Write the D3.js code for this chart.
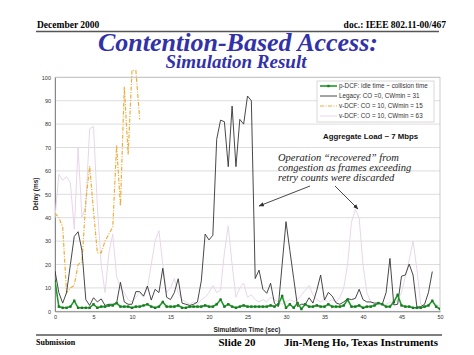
<!DOCTYPE html>
<html><head><meta charset="utf-8">
<script src="https://cdn.jsdelivr.net/npm/d3@7"></script>
<style>body{margin:0;background:#fff}svg{display:block}</style>
</head><body><svg id="c" width="474" height="355"></svg>
<script>
// ---- data ----
const timeStep = 0.5;
const pDCF = [13,2,1.5,1.5,2,4.5,1.5,1.5,1.5,1.5,3,1.5,2,2,2.5,2.5,3.5,2,2,2,1.5,2,2,2.5,3,2,1.5,2,4,2,2,2,2.5,1.5,1.5,2,2,2,2,2.5,2,2,3,5,2,3,2,1.5,2,2.5,2,2,2,2,2,2,2.5,2,3,6.5,1.5,3,1.5,3.5,1,3,2,2,2.5,2,2,3,2,2,2,2.5,5,2,2,2.5,1.5,2,2,2.5,3.5,3,2,2,4,7,2.5,2,2,1.5,1.5,1.5,2,2.5,4.5,2,1];
const legacy = [17.2,8,3.5,8,20,32,34,26,5,2.5,5.8,4,5.3,2.5,3,3,3.5,12.4,4,3,3,8.4,8.4,6.5,10.8,4.8,9.4,8,18.4,6,5,8,13.9,3.5,3,2.5,3,4,13,33,30.5,32.5,73.5,81.7,81,61.8,87.7,61.8,82,80,92,90,14,17.6,9.4,7.7,12,3.4,2,20,38.3,26,14,2,3,3,5.8,3.5,9,15.5,4.8,8.1,6.5,3.6,3,4,5.4,5,5.5,9.4,5,4,4,3.5,3.5,3,8,22.6,2.7,3,15,15.5,20.2,15.5,1.8,2,3,8,17];
const vDCF15 = [42,40,36,8,10,11,20,21,47,62,43,25,25,30,33,36,71,45,96,67,103,103,82];
const vDCF63 = [40,58.5,56,57.5,55,35,70,40,45,78,79,45,20,8,25,33,15,10,8,5,4,6,8,6,10,20,30,34.5,20,8,10,14,8,5,4,3,4,3,5,6,8,11,8,9,25,36.5,20,6,10,12,6,7,5,4,5,4,6,5,4,3,4,5,4,5,7,9,11,7,5,4,5,4,5,4,6,10,20,38,43.5,40,20,8,4,3,4,3,3,4,3,5,8,15,22,30,18,3,2,3,4,3,2];
const xTicks = [0,5,10,15,20,25,30,35,40,45,50];
const yTicks = [0,10,20,30,40,50,60,70,80,90,100];
const legendLabels = ["p-DCF: idle time ~ collision time","Legacy: CO =0, CWmin = 31","v-DCF:  CO = 10, CWmin = 15","v-DCF: CO = 10, CWmin = 63"];
const annotationLines = ["Operation \u201crecovered\u201d from","congestion as frames exceeding","retry counts were discarded"];

const svg = d3.select("#c");
const serif = "'Liberation Serif','Times New Roman',serif";
const sans = "'Liberation Sans',Arial,sans-serif";

// header
svg.append("text").attr("x",37).attr("y",27.5).attr("font-family",serif).attr("font-weight","bold").attr("font-size",9.5).text("December 2000");
svg.append("text").attr("x",446).attr("y",27.5).attr("text-anchor","end").attr("font-family",serif).attr("font-weight","bold").attr("font-size",9.5).text("doc.: IEEE 802.11-00/467");
svg.append("line").attr("x1",36).attr("x2",439).attr("y1",31.5).attr("y2",31.5).attr("stroke","#555").attr("stroke-width",1.5);
svg.append("text").attr("x",238).attr("y",51).attr("text-anchor","middle").attr("font-family",serif).attr("font-weight","bold").attr("font-style","italic").attr("font-size",26).attr("fill","#3232a8").text("Contention-Based Access:");
svg.append("text").attr("x",236).attr("y",68).attr("text-anchor","middle").attr("font-family",serif).attr("font-weight","bold").attr("font-style","italic").attr("font-size",19).attr("fill","#3232a8").text("Simulation Result");

// footer
svg.append("line").attr("x1",36).attr("x2",442).attr("y1",335).attr("y2",335).attr("stroke","#555").attr("stroke-width",1.5);
svg.append("text").attr("x",36).attr("y",345).attr("font-family",serif).attr("font-weight","bold").attr("font-size",8).text("Submission");
svg.append("text").attr("x",237).attr("y",346).attr("text-anchor","middle").attr("font-family",serif).attr("font-weight","bold").attr("font-size",11).text("Slide 20");
svg.append("text").attr("x",438).attr("y",346).attr("text-anchor","end").attr("font-family",serif).attr("font-weight","bold").attr("font-size",11).text("Jin-Meng Ho, Texas Instruments");

// plot
const L=55, R=440, T=77.3, B=311.3;
const x = d3.scaleLinear().domain([0,50]).range([L,R]);
const y = d3.scaleLinear().domain([0,100]).range([B,T]);

const g = svg.append("g");
g.selectAll("line.grid").data(yTicks.slice(1)).join("line").attr("class","grid")
  .attr("x1",L).attr("x2",R).attr("y1",d=>y(d)).attr("y2",d=>y(d)).attr("stroke","#d4d4d4").attr("stroke-width",0.8);
g.append("rect").attr("x",L).attr("y",T).attr("width",R-L).attr("height",B-T).attr("fill","none").attr("stroke","#bdbdbd").attr("stroke-width",0.8);

const yAxis = g.append("g").attr("transform",`translate(${L},0)`).call(d3.axisLeft(y).tickValues(yTicks).tickSize(0).tickPadding(4));
yAxis.select(".domain").attr("stroke","#888");
yAxis.selectAll("text").attr("font-family",sans).attr("font-size",5.5).attr("fill","#333");
const xAxis = g.append("g").attr("transform",`translate(0,${B})`).call(d3.axisBottom(x).tickValues(xTicks).tickSize(0).tickPadding(4));
xAxis.select(".domain").attr("stroke","#888");
xAxis.selectAll("text").attr("font-family",sans).attr("font-size",5.5).attr("fill","#333");

svg.append("text").attr("transform","translate(38,194) rotate(-90)").attr("text-anchor","middle").attr("font-family",sans).attr("font-weight","bold").attr("font-size",6.5).attr("fill","#222").text("Delay (ms)");
svg.append("text").attr("x",247).attr("y",331.5).attr("text-anchor","middle").attr("font-family",sans).attr("font-weight","bold").attr("font-size",6.5).attr("fill","#222").text("Simulation Time (sec)");

const line = d3.line().x((d,i)=>x(i*timeStep)).y(d=>y(d));
svg.append("clipPath").attr("id","clip").append("rect").attr("x",L).attr("y",T-8).attr("width",R-L).attr("height",B-T+8);
const pg = svg.append("g").attr("clip-path","url(#clip)");
pg.append("path").datum(vDCF63).attr("d",line).attr("fill","none").attr("stroke","#e8d6ea").attr("stroke-width",1);
pg.append("path").datum(vDCF15).attr("d",line).attr("fill","none").attr("stroke","#eeae3c").attr("stroke-width",1.2).attr("stroke-dasharray","4,1.5,1,1.5");
pg.append("path").datum(legacy).attr("d",line).attr("fill","none").attr("stroke","#333").attr("stroke-width",0.9);
pg.append("path").datum(pDCF).attr("d",line).attr("fill","none").attr("stroke","#1f9a2a").attr("stroke-width",1.6);
pg.selectAll("rect.m").data(pDCF).join("rect").attr("class","m")
  .attr("x",(d,i)=>x(i*timeStep)-1.2).attr("y",d=>y(d)-1.2).attr("width",2.4).attr("height",2.4).attr("fill","#1a7a22");

// legend
const lg = svg.append("g");
lg.append("rect").attr("x",317).attr("y",81).attr("width",117).attr("height",41).attr("fill","#fff").attr("stroke","#cfcfcf").attr("stroke-width",0.8);
const styles = [
  {c:"#1f9a2a",w:1.6,d:null},
  {c:"#333",w:0.9,d:null},
  {c:"#eeae3c",w:1.2,d:"4,1.5,1,1.5"},
  {c:"#e8d6ea",w:1,d:null}
];
legendLabels.forEach((t,i)=>{
  const yy = 86+i*10;
  const ln = lg.append("line").attr("x1",320).attr("x2",337).attr("y1",yy).attr("y2",yy).attr("stroke",styles[i].c).attr("stroke-width",styles[i].w);
  if(styles[i].d) ln.attr("stroke-dasharray",styles[i].d);
  if(i===0) lg.append("rect").attr("x",327.3).attr("y",yy-1.2).attr("width",2.4).attr("height",2.4).attr("fill","#1a7a22");
  lg.append("text").attr("x",339).attr("y",yy+2.2).attr("font-family",sans).attr("font-size",6.3).attr("fill","#333").text(t);
});

svg.append("text").attr("x",323).attr("y",139).attr("font-family",sans).attr("font-weight","bold").attr("font-size",7.8).attr("fill","#111").text("Aggregate Load ~ 7 Mbps");

annotationLines.forEach((t,i)=>{
  svg.append("text").attr("x",278).attr("y",160.5+i*10).attr("font-family",serif).attr("font-style","italic").attr("font-size",10.5).attr("fill","#222").text(t);
});

// arrows
svg.append("defs").append("marker").attr("id","ah").attr("viewBox","0 0 10 10").attr("refX",9).attr("refY",5)
  .attr("markerWidth",6).attr("markerHeight",6).attr("orient","auto")
  .append("path").attr("d","M0,1 L10,5 L0,9 z").attr("fill","#333");
svg.append("line").attr("x1",310).attr("y1",186).attr("x2",259).attr("y2",206).attr("stroke","#333").attr("stroke-width",0.9).attr("marker-end","url(#ah)");
svg.append("line").attr("x1",335).attr("y1",186).attr("x2",358).attr("y2",209).attr("stroke","#333").attr("stroke-width",0.9).attr("marker-end","url(#ah)");
</script>
</body></html>
